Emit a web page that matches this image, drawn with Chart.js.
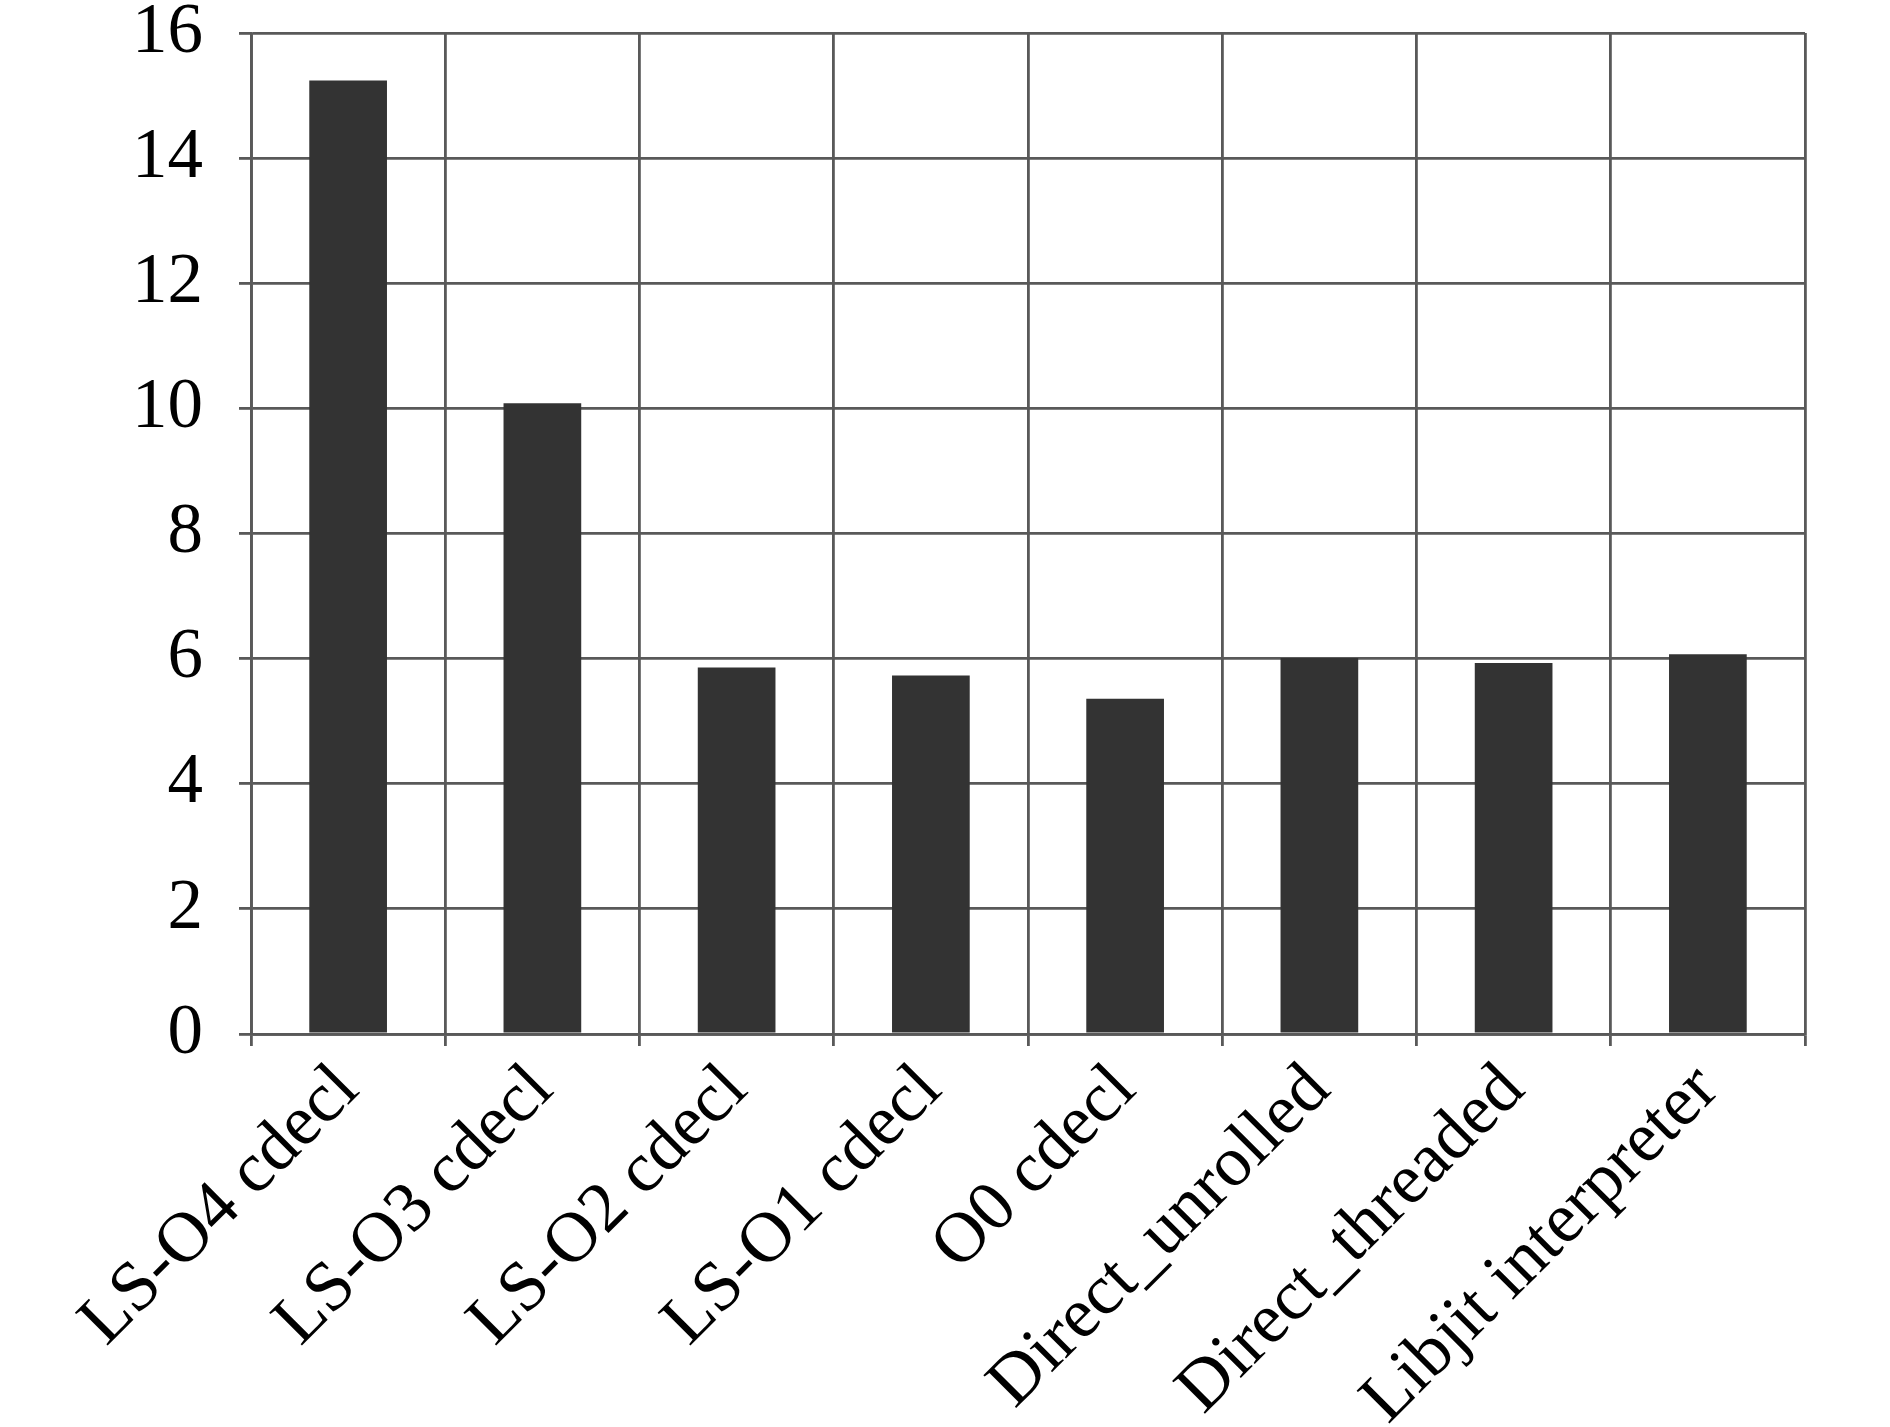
<!DOCTYPE html>
<html>
<head>
<meta charset="utf-8">
<script src="https://cdn.jsdelivr.net/npm/chart.js@4.4.1/dist/chart.umd.min.js"></script>
<style>
  html, body { margin: 0; padding: 0; background: #fff; }
  canvas { display: block; }
</style>
</head>
<body>
<canvas id="barChart" width="1890" height="1427"></canvas>
<script>
// values
const categories = ['LS-O4 cdecl', 'LS-O3 cdecl', 'LS-O2 cdecl', 'LS-O1 cdecl',
                    'O0 cdecl', 'Direct_unrolled', 'Direct_threaded', 'Libjit interpreter'];
const values = [15.24, 10.08, 5.86, 5.73, 5.36, 6.01, 5.93, 6.07];
const yTicks = [0, 2, 4, 6, 8, 10, 12, 14, 16];

const gridColor = '#595959';
const fontFamily = "'Liberation Serif', 'Times New Roman', serif";

const ctx = document.getElementById('barChart').getContext('2d');

new Chart(ctx, {
    type: 'bar',
    data: {
        labels: categories,
        datasets: [{
            data: values,
            backgroundColor: '#333333',
            borderWidth: 0,
            categoryPercentage: 1,
            barPercentage: 0.4
        }]
    },
    options: {
        responsive: false,
        animation: false,
        devicePixelRatio: 1,
        layout: {
            padding: { left: 0, top: 33, right: 85, bottom: 0 }
        },
        plugins: {
            legend: { display: false },
            tooltip: { enabled: false }
        },
        scales: {
            x: {
                offset: true,
                grid: {
                    offset: true,
                    color: gridColor,
                    lineWidth: 2.8,
                    tickLength: 12
                },
                border: { color: gridColor, width: 2.8 },
                ticks: {
                    color: '#000',
                    font: { family: fontFamily, size: 71, lineHeight: 0.9 },
                    maxRotation: 45,
                    minRotation: 45,
                    padding: 10
                },
                afterFit: function (scale) { scale.height = 1427 - 1034; }
            },
            y: {
                min: 0,
                max: 16,
                afterBuildTicks: function (scale) {
                    scale.ticks = yTicks.map(v => ({ value: v }));
                },
                grid: {
                    color: gridColor,
                    lineWidth: 2.8,
                    tickLength: 12
                },
                border: { color: gridColor, width: 2.8 },
                ticks: {
                    color: '#000',
                    font: { family: fontFamily, size: 71 },
                    padding: 36
                },
                afterFit: function (scale) {
                    scale.width = 251;
                    // let layout.padding decide the top edge
                    scale.paddingTop = 0;
                    scale.paddingBottom = 0;
                }
            }
        }
    }
});
</script>
</body>
</html>
